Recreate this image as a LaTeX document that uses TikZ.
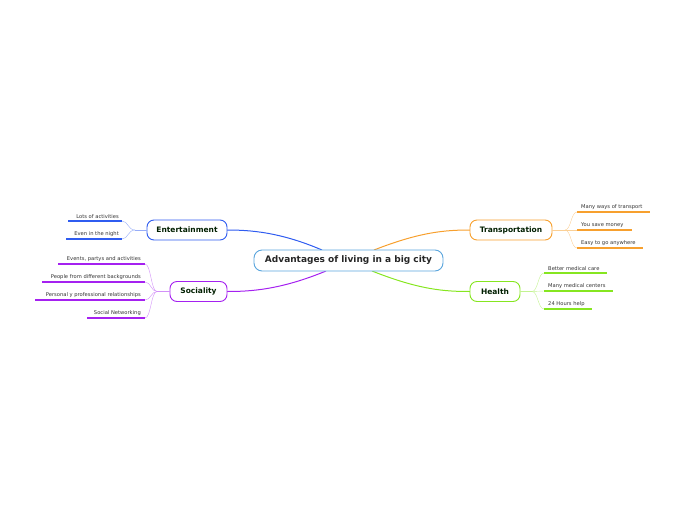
\documentclass[tikz,border=0pt]{standalone}
\usepackage{fontspec}
\setmainfont{DejaVu Sans}
\begin{document}
\begin{tikzpicture}[x=1pt,y=-1pt,
  topic/.style={draw,rounded corners=7pt,line width=0.9pt,fill=white,minimum height=20pt,font=\fontsize{7.5}{8}\selectfont\bfseries,text=black!70!green!40!black},
  leaf/.style={font=\fontsize{5.2}{6}\selectfont,text=black!80,inner sep=1pt,anchor=south west},
  ul/.style={line width=1.1pt}]
\definecolor{cb}{HTML}{2F5CF0}\definecolor{cp}{HTML}{A521F0}
\definecolor{co}{HTML}{F7A02E}\definecolor{cg}{HTML}{86E620}\definecolor{cc}{HTML}{5AA5DD}
\useasboundingbox (0,0) rectangle (697,520);
% main connectors
\draw[cb,line width=1pt] (322,250) .. controls (280,232) and (250,230) .. (227,230);
\draw[cp,line width=1pt] (326,271) .. controls (280,290) and (250,291.5) .. (227,291.5);
\draw[co,line width=1pt] (374,250) .. controls (420,232) and (445,230) .. (470,230);
\draw[cg,line width=1pt] (372,271) .. controls (420,290) and (445,291.5) .. (470,291.5);
\node[topic,draw=cc,minimum width=189pt,minimum height=21pt,font=\fontsize{9}{10}\selectfont\bfseries,text=black!85,rounded corners=8pt] (c) at (348.5,260.5) {Advantages of living in a big city};
\node[topic,draw=cb,minimum width=80pt] (e) at (187,230) {Entertainment};
\node[topic,draw=cp,minimum width=57pt] (s) at (198.5,291.5) {Sociality};
\node[topic,draw=co,minimum width=82pt] (t) at (511,230) {Transportation};
\node[topic,draw=cg,minimum width=50pt] (h) at (495,291.5) {Health};
% Entertainment leaves
\coordinate (eb) at (135,230);
\draw[cb!50] (e.west) -- (eb);
\foreach \t/\y/\l in {{Lots of activities}/221/68,{Even in the night}/239/66}{
  \draw[cb!50] (eb) .. controls (128,230) and (128,\y) .. (122,\y);
  \draw[cb,ul] (\l,\y) -- (122,\y);
  \node[leaf,anchor=south east] at (120,\y-1.5) {\t};}
% Sociality leaves
\coordinate (sb) at (157,291.5);
\draw[cp!50] (s.west) -- (sb);
\foreach \t/\y/\l in {{Events, partys and activities}/264/58,{People from different backgrounds}/282/42,{Personal y professional relationships}/300/35,{Social Networking}/318/87}{
  \draw[cp!50] (sb) .. controls (151,291.5) and (151,\y) .. (145,\y);
  \draw[cp,ul] (\l,\y) -- (145,\y);
  \node[leaf,anchor=south east] at (142,\y-1.5) {\t};}
% Transportation leaves
\coordinate (tb) at (565,230);
\draw[co!50] (t.east) -- (tb);
\foreach \t/\y/\r in {{Many ways of transport}/212/650,{You save money}/230/632,{Easy to go anywhere}/248/643}{
  \draw[co!50] (tb) .. controls (571,230) and (571,\y) .. (577,\y);
  \draw[co,ul] (577,\y) -- (\r,\y);
  \node[leaf] at (580,\y-1.5) {\t};}
% Health leaves
\coordinate (hb) at (532,291.5);
\draw[cg!50] (h.east) -- (hb);
\foreach \t/\y/\r in {{Better medical care}/273/607,{Many medical centers}/291/613,{24 Hours help}/309/592}{
  \draw[cg!50] (hb) .. controls (538,291.5) and (538,\y) .. (544,\y);
  \draw[cg,ul] (544,\y) -- (\r,\y);
  \node[leaf] at (547,\y-1.5) {\t};}
\end{tikzpicture}
\end{document}
